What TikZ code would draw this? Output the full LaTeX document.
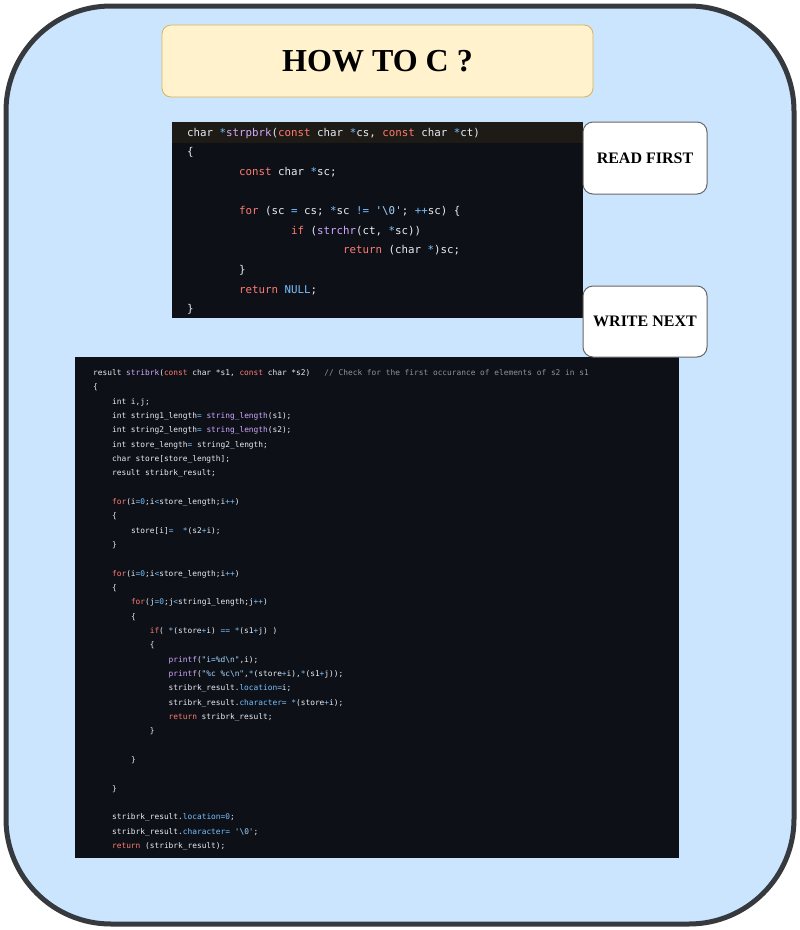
\documentclass[tikz,border=0pt]{standalone}
\usepackage{fontspec}
\setmainfont{Liberation Serif}
\setmonofont{DejaVu Sans Mono}
\definecolor{framefill}{HTML}{CCE5FF}
\definecolor{frameline}{HTML}{36393D}
\definecolor{titlefill}{HTML}{FFF2CC}
\definecolor{titleline}{HTML}{D6B656}
\definecolor{boxline}{HTML}{666666}
\definecolor{codebg}{HTML}{0D1117}
\definecolor{codehead}{HTML}{1E1B16}
\definecolor{codefg}{HTML}{E6EDF3}
\definecolor{kwc}{HTML}{FF7B72}
\definecolor{fnc}{HTML}{D2A8FF}
\definecolor{blc}{HTML}{79C0FF}
\definecolor{stc}{HTML}{A5D6FF}
\definecolor{cmc}{HTML}{8B949E}
\newcommand\ck[1]{\textcolor{kwc}{#1}}
\newcommand\cf[1]{\textcolor{fnc}{#1}}
\newcommand\cb[1]{\textcolor{blc}{#1}}
\newcommand\cs[1]{\textcolor{stc}{#1}}
\newcommand\cc[1]{\textcolor{cmc}{#1}}
\tikzset{
  codeA/.style={anchor=base west, inner sep=0pt, text=codefg, font=\ttfamily\fontsize{10.8}{12}\selectfont},
  codeB/.style={anchor=base west, inner sep=0pt, text=codefg, font=\ttfamily\fontsize{7.84}{9}\selectfont},
  labelbox/.style={draw=boxline, fill=white, rounded corners=10pt, line width=1pt, inner sep=0pt,
    minimum width=124pt, minimum height=72pt, font=\bfseries\fontsize{16}{18}\selectfont},
  codepanel/.style={fill=codebg, draw=none, inner sep=0pt}
}
\begin{document}
\begin{tikzpicture}[x=1pt,y=-1pt]
\useasboundingbox (0,0) rectangle (800,930);
% outer frame
\draw[fill=framefill, draw=frameline, line width=5pt, rounded corners=105pt] (6,6) rectangle (794,924);
\node (frame) at (400,465) {};
% title
\node[draw=titleline, fill=titlefill, rounded corners=9pt, line width=0.8pt, inner sep=0pt,
  minimum width=431pt, minimum height=72pt, font=\bfseries\fontsize{32}{36}\selectfont] (title) at (377.5,61) {HOW TO C ?};
% code panel 1
\node[codepanel, minimum width=411pt, minimum height=196pt] (code1) at (377.5,220) {};
\fill[codehead] (code1.north west) rectangle ([yshift=-21pt]code1.north east);
\node[codeA] (a1) at (187,136.3) {char \cb{*}\cf{strpbrk}(\ck{const} char \cb{*}cs, \ck{const} char \cb{*}ct)};
\node[codeA] (a2) at (187,155.9) {\{};
\node[codeA] (a3) at (239,175.5) {\ck{const} char \cb{*}sc;};
\node[codeA] (a5) at (239,214.7) {\ck{for} (sc \cb{=} cs; \cb{*}sc \cb{!=} \cs{'\textbackslash 0'}; \cb{++}sc) \{};
\node[codeA] (a6) at (291,234.3) {\ck{if} (\cf{strchr}(ct, \cb{*}sc))};
\node[codeA] (a7) at (343,253.9) {\ck{return} (char \cb{*})sc;};
\node[codeA] (a8) at (239,273.5) {\}};
\node[codeA] (a9) at (239,293.1) {\ck{return} \cb{NULL};};
\node[codeA] (a10) at (187,312.7) {\}};
% code panel 2
\node[codepanel, minimum width=604pt, minimum height=501pt] (code2) at (377,607.5) {};
\node[codeB] (b1) at (93,375.4) {result \cf{stribrk}(\ck{const} char *s1, \ck{const} char *s2)\ \ \ \cc{// Check for the first occurance of elements of s2 in s1}};
\node[codeB] (b2) at (93,389.7) {\{};
\node[codeB] (b3) at (111.9,404.1) {int i,j;};
\node[codeB] (b4) at (111.9,418.4) {int string1\_length\cb{=} \cf{string\_length}(s1);};
\node[codeB] (b5) at (111.9,432.7) {int string2\_length\cb{=} \cf{string\_length}(s2);};
\node[codeB] (b6) at (111.9,447.1) {int store\_length\cb{=} string2\_length;};
\node[codeB] (b7) at (111.9,461.4) {char store[store\_length];};
\node[codeB] (b8) at (111.9,475.7) {result stribrk\_result;};
\node[codeB] (b10) at (111.9,504.4) {\ck{for}(i\cb{=}\cb{0};i\cb{<}store\_length;i\cb{++})};
\node[codeB] (b11) at (111.9,518.7) {\{};
\node[codeB] (b12) at (130.8,533.1) {store[i]\cb{=}\ \ \cb{*}(s2\cb{+}i);};
\node[codeB] (b13) at (111.9,547.4) {\}};
\node[codeB] (b15) at (111.9,576.1) {\ck{for}(i\cb{=}\cb{0};i\cb{<}store\_length;i\cb{++})};
\node[codeB] (b16) at (111.9,590.4) {\{};
\node[codeB] (b17) at (130.8,604.7) {\ck{for}(j\cb{=}\cb{0};j\cb{<}string1\_length;j\cb{++})};
\node[codeB] (b18) at (130.8,619.1) {\{};
\node[codeB] (b19) at (149.6,633.4) {\ck{if}( \cb{*}(store\cb{+}i) \cb{==} \cb{*}(s1\cb{+}j) )};
\node[codeB] (b20) at (149.6,647.7) {\{};
\node[codeB] (b21) at (168.5,662.1) {\cf{printf}(\cs{"i=\%d\textbackslash n"},i);};
\node[codeB] (b22) at (168.5,676.4) {\cf{printf}(\cs{"\%c \%c\textbackslash n"},\cb{*}(store\cb{+}i),\cb{*}(s1\cb{+}j));};
\node[codeB] (b23) at (168.5,690.7) {stribrk\_result.\cb{location}\cb{=}i;};
\node[codeB] (b24) at (168.5,705.1) {stribrk\_result.\cb{character}\cb{=} \cb{*}(store\cb{+}i);};
\node[codeB] (b25) at (168.5,719.4) {\ck{return} stribrk\_result;};
\node[codeB] (b26) at (149.6,733.7) {\}};
\node[codeB] (b28) at (130.8,762.4) {\}};
\node[codeB] (b30) at (111.9,791.1) {\}};
\node[codeB] (b32) at (111.9,819.7) {stribrk\_result.\cb{location}\cb{=}\cb{0};};
\node[codeB] (b33) at (111.9,834.1) {stribrk\_result.\cb{character}\cb{=} \cs{'\textbackslash 0'};};
\node[codeB] (b34) at (111.9,848.4) {\ck{return} (stribrk\_result);};
% label boxes
\node[labelbox] (read) at (645,158) {READ FIRST};
\node[labelbox, minimum height=71pt] (write) at (645,321.5) {WRITE NEXT};
\end{tikzpicture}
\end{document}
